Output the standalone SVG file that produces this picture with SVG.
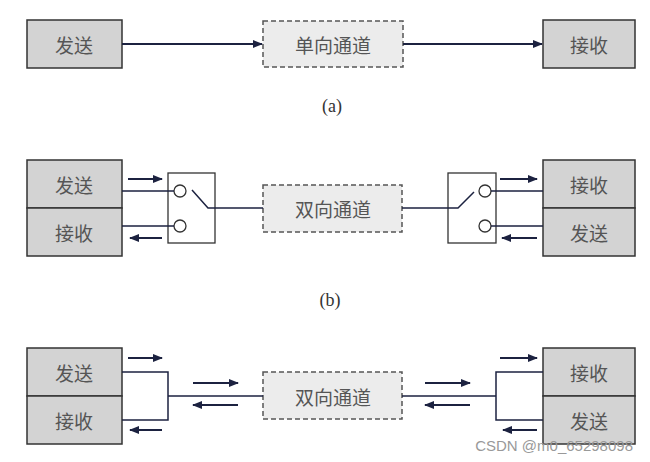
<svg xmlns="http://www.w3.org/2000/svg" width="650" height="462" viewBox="0 0 650 462">
<style>
.box{fill:#d3d3d3;stroke:#333;stroke-width:1.5}
.ch{fill:#ececec;stroke:#555;stroke-width:1.5;stroke-dasharray:5,3}
.sw{fill:#fff;stroke:#333;stroke-width:1.3}
.t{font-family:"Noto Sans CJK SC",sans-serif;font-size:19px;fill:#555;text-anchor:middle;dominant-baseline:central}
.l{font-family:"Liberation Serif",serif;font-size:18px;fill:#333;text-anchor:middle}
.w{stroke:#1c2240;stroke-width:1.5;fill:none}
.a{stroke:#1c2240;stroke-width:2;fill:none;marker-end:url(#ah)}
</style>
<defs><marker id="ah" markerWidth="10" markerHeight="8" refX="9" refY="4" orient="auto" markerUnits="userSpaceOnUse"><path d="M0,0L10,4L0,8z" fill="#1c2240"/></marker></defs>
<rect width="650" height="462" fill="#fff"/>
<g id="a-send"><rect class="box" x="27" y="20" width="95" height="48"/><text class="t" x="74" y="44">发送</text></g>
<g id="a-ch"><rect class="ch" x="263" y="21" width="140" height="46"/><text class="t" x="333" y="44">单向通道</text></g>
<g id="a-recv"><rect class="box" x="543" y="20" width="92" height="48"/><text class="t" x="589" y="44">接收</text></g>
<text class="l" x="332" y="112">(a)</text>
<g id="b-send"><rect class="box" x="27" y="160" width="95" height="48"/><text class="t" x="74" y="184">发送</text></g>
<g id="b-recv"><rect class="box" x="27" y="208" width="95" height="48"/><text class="t" x="74" y="232">接收</text></g>
<g id="b-sw1"><rect class="sw" x="168" y="173" width="47" height="70"/><circle class="sw" cx="180" cy="191" r="6"/><circle class="sw" cx="180" cy="226" r="6"/></g>
<g id="b-ch"><rect class="ch" x="263" y="185" width="139" height="47"/><text class="t" x="333" y="208">双向通道</text></g>
<g id="b-sw2"><rect class="sw" x="448" y="173" width="48" height="70"/><circle class="sw" cx="485" cy="191" r="6"/><circle class="sw" cx="485" cy="226" r="6"/></g>
<g id="b-recv2"><rect class="box" x="543" y="160" width="92" height="48"/><text class="t" x="589" y="184">接收</text></g>
<g id="b-send2"><rect class="box" x="543" y="208" width="92" height="48"/><text class="t" x="589" y="232">发送</text></g>
<text class="l" x="330" y="306">(b)</text>
<g id="c-send"><rect class="box" x="27" y="348" width="95" height="48"/><text class="t" x="74" y="372">发送</text></g>
<g id="c-recv"><rect class="box" x="27" y="396" width="95" height="48"/><text class="t" x="74" y="420">接收</text></g>
<g id="c-ch"><rect class="ch" x="263" y="372" width="139" height="47"/><text class="t" x="333" y="396">双向通道</text></g>
<g id="c-recv2"><rect class="box" x="543" y="348" width="92" height="48"/><text class="t" x="589" y="372">接收</text></g>
<g id="c-send2"><rect class="box" x="543" y="396" width="92" height="48"/><text class="t" x="589" y="420">发送</text></g>
<g id="connectors">
<line class="a" x1="122" y1="44" x2="262" y2="44"/>
<line class="a" x1="403" y1="44" x2="542" y2="44"/>
<path class="w" d="M122,191H174M122,226H174M192,190L208,208H263M402,208H458L474,192M491,191H543M491,226H543"/>
<line class="a" x1="128" y1="179" x2="162" y2="179"/>
<line class="a" x1="162" y1="238" x2="130" y2="238"/>
<line class="a" x1="500" y1="179" x2="537" y2="179"/>
<line class="a" x1="537" y1="238" x2="502" y2="238"/>
<path class="w" d="M122,372H168V420H122M168,396H263M402,396H496M543,372H496V420H543"/>
<line class="a" x1="128" y1="358" x2="162" y2="358"/>
<line class="a" x1="162" y1="430" x2="130" y2="430"/>
<line class="a" x1="193" y1="383" x2="238" y2="383"/>
<line class="a" x1="238" y1="405" x2="193" y2="405"/>
<line class="a" x1="425" y1="383" x2="470" y2="383"/>
<line class="a" x1="470" y1="405" x2="425" y2="405"/>
<line class="a" x1="500" y1="358" x2="537" y2="358"/>
<line class="a" x1="537" y1="430" x2="503" y2="430"/>
</g>
<text x="633" y="451" font-family="Liberation Sans,sans-serif" font-size="15" fill="#999" text-anchor="end">CSDN @m0_65298098</text>
</svg>
